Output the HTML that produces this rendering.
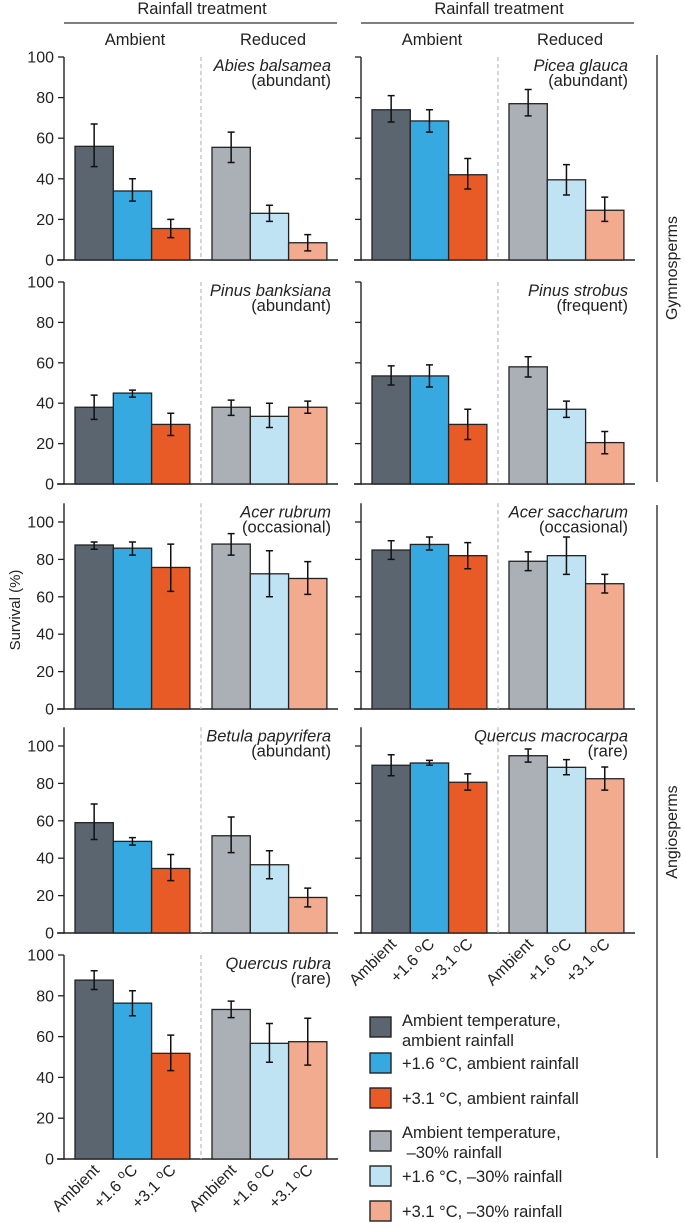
<!DOCTYPE html>
<html><head><meta charset="utf-8">
<style>
html,body{margin:0;padding:0;background:#fff;}
svg{display:block;font-family:"Liberation Sans",Arial,sans-serif;}
</style></head>
<body>
<svg id="fig" width="685" height="1223" viewBox="0 0 685 1223" xmlns="http://www.w3.org/2000/svg">
<g id="root"></g>
</svg>
<script>
const species = ["Abies balsamea","Picea glauca","Pinus banksiana","Pinus strobus","Acer rubrum","Acer saccharum","Betula papyrifera","Quercus macrocarpa","Quercus rubra"];
const abundance = ["(abundant)","(abundant)","(abundant)","(frequent)","(occasional)","(occasional)","(abundant)","(rare)","(rare)"];
const means = [
 [56,34,15.5,55.5,23,8.5],
 [74,68.5,42,77,39.5,24.5],
 [38,45,29.5,38,33.5,38],
 [53.5,53.5,29.5,58,37,20.5],
 [87.7,86,75.7,88.2,72.3,69.8],
 [85,88,82,79,82,67],
 [59,49,34.5,52,36.5,19],
 [89.7,90.9,80.6,94.8,88.6,82.5],
 [87.7,76.4,51.8,73.3,56.7,57.5]
];
const errLow = [
 [46,29,11,48,19,4.5],
 [68,63,35,71,32,19],
 [32,43,24,34,28,35],
 [49,48,22,53,33,15],
 [85.4,82.3,62.9,82.3,60,61.3],
 [80,85,75,74,72,62],
 [50,47,28,43,29,14],
 [84.1,89.7,76.4,91.4,84.6,76.4],
 [83.1,70.2,43.3,69.3,47.4,46]
];
const errHigh = [
 [67,40,20,63,27,12.5],
 [81,74,50,84,47,31],
 [44,46.5,35,41.5,40,41],
 [58.5,59,37,63,41,26],
 [89.3,89.3,88.2,93.8,84.6,78.8],
 [90,92,89,84,92,72],
 [69,51,42,62,44,24],
 [95.3,92.3,85.1,98.4,92.7,88.8],
 [92.3,82.5,60.7,77.4,66.4,69]
];
const yTicks100 = [0,20,40,60,80,100];
const categories = ["Ambient","+1.6 ","+3.1 ","Ambient","+1.6 ","+3.1 "];
const legendLabels = [["Ambient temperature,","ambient rainfall"],["+1.6 \u00B0C, ambient rainfall"],["+3.1 \u00B0C, ambient rainfall"],["Ambient temperature,","\u00A0\u201330% rainfall"],["+1.6 \u00B0C, \u201330% rainfall"],["+3.1 \u00B0C, \u201330% rainfall"]];

const colors=["#5b6570","#36a9e0","#e95b26","#abb0b7","#c0e3f4","#f2ab8f"];
const layout=[[0,0],[1,0],[0,1],[1,1],[0,2],[1,2],[0,3],[1,3],[0,4]];
const rowBase=[260,484,709,933,1159];
const rowScale=[2.03,2.02,1.87,1.87,2.04];
const rowMax=[100,100,110,110,100];
const NS="http://www.w3.org/2000/svg";
const root=document.getElementById('root');
function el(tag,attrs,parent,text){const e=document.createElementNS(NS,tag);for(const k in attrs)e.setAttribute(k,attrs[k]);if(text!==undefined)e.textContent=text;(parent||root).appendChild(e);return e;}

[0,297].forEach((dx,ci)=>{
  const t=el('text',{x:202+dx,y:14,'text-anchor':'middle','font-size':16.5,fill:'#222'},root,'Rainfall treatment');
  
  
  const l=el('line',{x1:64+dx,x2:337+dx,y1:23,y2:23,stroke:'#333','stroke-width':1.3});
  
  
  const a=el('text',{x:135+dx,y:45,'text-anchor':'middle','font-size':16.5,fill:'#222'},root,'Ambient');
  
  
  const r=el('text',{x:273+dx,y:45,'text-anchor':'middle','font-size':16.5,fill:'#222'},root,'Reduced');
  
  
});

const barW=38.3;
const barStarts=[75,113.3,151.6,212,250.3,288.6];
species.forEach((sp,i)=>{
  const [col,row]=layout[i];
  const dx=col*297, y0=rowBase[row], s=rowScale[row], ymax=rowMax[row];
  const Y=v=>y0-v*s;
  const X=j=>dx+barStarts[j];
  const g=el('g',{});
  
  
  el('line',{x1:64+dx,x2:64+dx,y1:Y(ymax),y2:y0+0.7,stroke:'#222','stroke-width':1.4},g);
  el('line',{x1:57+dx,x2:338+dx,y1:y0,y2:y0,stroke:'#222','stroke-width':1.4},g);
  yTicks100.forEach(t=>{
    el('line',{x1:58+dx,x2:64+dx,y1:Y(t),y2:Y(t),stroke:'#222','stroke-width':1.3},g);
    if(col===0){
      const tl=el('text',{x:54,y:Y(t)+5.5,'text-anchor':'end','font-size':16,fill:'#222'},g,String(t));
      
      
    }
  });
  el('line',{x1:201+dx,x2:201+dx,y1:Y(ymax),y2:y0,stroke:'#bbb','stroke-width':1.2,'stroke-dasharray':'4,3'},g);
  means[i].forEach((v,j)=>{
    const b=el('rect',{x:X(j),y:Y(v),width:barW,height:v*s,fill:colors[j],stroke:'#222','stroke-width':1.3},g);
    
    
    const cx=X(j)+barW/2;
    const lo=Y(errLow[i][j]), hi=Y(errHigh[i][j]);
    const e=el('path',{d:`M${cx},${lo}V${hi}M${cx-3.5},${lo}H${cx+3.5}M${cx-3.5},${hi}H${cx+3.5}`,stroke:'#111','stroke-width':1.5,fill:'none'},g);
    
    
  });
  const top=Y(ymax);
  const st=el('text',{x:331+dx,y:top+14,'text-anchor':'end','font-size':16.5,'font-style':'italic',fill:'#222'},g,sp);
  
  
  const ab=el('text',{x:331+dx,y:top+29,'text-anchor':'end','font-size':16.5,fill:'#222'},g,abundance[i]);
  
  
  if((col===0&&row===4)||(col===1&&row===3)){
    categories.forEach((c,j)=>{
      const cx=X(j)+barW/2+6, ty=y0+12;
      const t=el('text',{x:cx,y:ty,'text-anchor':'end','font-size':16,fill:'#222',transform:`rotate(-45 ${cx} ${ty})`},g);
      
      
      if(c==='Ambient'){t.textContent='Ambient';}
      else{
        el('tspan',{},t,c);
        el('tspan',{'font-size':12,dy:-6},t,'o');
        el('tspan',{dy:6},t,'C');
      }
    });
  }
});

const yt=el('text',{x:0,y:0,'text-anchor':'middle','font-size':15,fill:'#222',transform:'translate(20,610) rotate(-90)'},root,'Survival (%)');



const gb=el('line',{x1:657,x2:657,y1:55,y2:482,stroke:'#222','stroke-width':1.3});


const ab2=el('line',{x1:657,x2:657,y1:505,y2:1158,stroke:'#222','stroke-width':1.3});


const gt=el('text',{x:0,y:0,'text-anchor':'middle','font-size':16,fill:'#222',transform:'translate(677,268) rotate(-90)'},root,'Gymnosperms');


const at=el('text',{x:0,y:0,'text-anchor':'middle','font-size':16,fill:'#222',transform:'translate(677,832) rotate(-90)'},root,'Angiosperms');



const legTops=[1017,1053,1088,1131,1166,1201];
legendLabels.forEach((lines,j)=>{
  const g=el('g',{});
  
  
  el('rect',{x:370,y:legTops[j],width:21,height:20,fill:colors[j],stroke:'#222','stroke-width':1.4},g);
  if(lines.length===1){
    el('text',{x:402,y:legTops[j]+16,'font-size':16.5,fill:'#222'},g,lines[0]);
  }else{
    const base = j===0 ? 1026 : 1138;
    el('text',{x:402,y:base,'font-size':16.5,fill:'#222'},g,lines[0]);
    el('text',{x:402,y:base+20,'font-size':16.5,fill:'#222'},g,lines[1]);
  }
});
</script>
</body></html>
